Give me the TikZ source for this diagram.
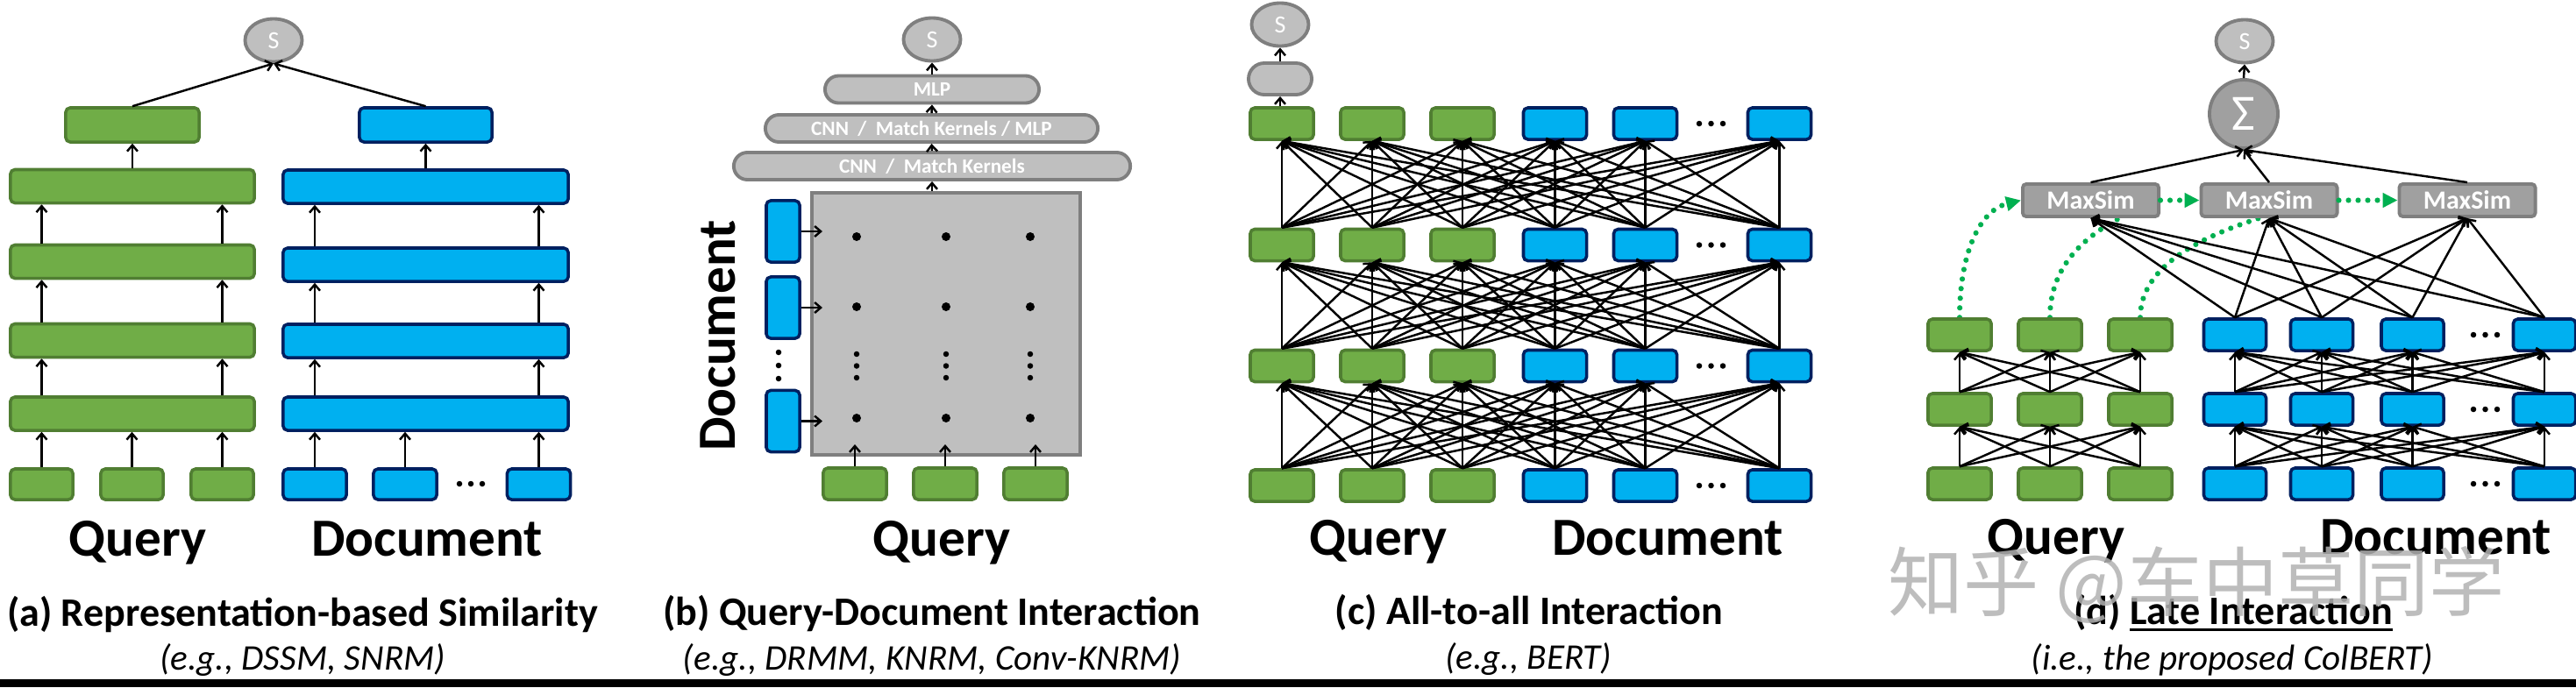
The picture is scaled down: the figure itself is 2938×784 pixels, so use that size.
\documentclass[tikz,border=0pt]{standalone}
\usepackage{fontspec}
\setmainfont{Carlito}
\newfontfamily\mycjk{Noto Sans CJK SC}
\usetikzlibrary{arrows.meta,shapes.geometric,shapes.misc,calc}
\definecolor{gfill}{HTML}{70AD47}
\definecolor{gline}{HTML}{507E32}
\definecolor{bfill}{HTML}{00B0F0}
\definecolor{bline}{HTML}{002060}
\definecolor{grfill}{HTML}{BFBFBF}
\definecolor{grline}{HTML}{7F7F7F}
\definecolor{msfill}{HTML}{A0A0A0}
\definecolor{dotgreen}{HTML}{00B050}
\pgfdeclarelayer{paper}
\pgfdeclarelayer{bg}
\pgfsetlayers{paper,bg,main}
\newcommand{\myfbig}{\fontsize{17.4pt}{20pt}\selectfont\bfseries}
\newcommand{\myfcap}{\fontsize{13.1pt}{15pt}\selectfont\bfseries}
\newcommand{\myfital}{\fontsize{11.7pt}{14pt}\selectfont\itshape}
\newcommand{\myfcaps}{\fontsize{6.6pt}{8pt}\selectfont\bfseries}
\newcommand{\myfms}{\fontsize{8.5pt}{10pt}\selectfont\bfseries}
\newcommand{\myfS}{\fontsize{8pt}{9pt}\selectfont}
\newcommand{\myul}[1]{\leavevmode\vtop{\hbox{#1}\kern1.3pt\hrule height0.85pt}}
\begin{document}
\begin{tikzpicture}[x=0.01cm,y=-0.01cm,
  gbox/.style={draw=gline,fill=gfill,line width=1pt,rounded corners=0.05cm,inner sep=0pt,minimum width=0.72cm,minimum height=0.36cm},
  bbox/.style={draw=bline,fill=bfill,line width=1pt,rounded corners=0.05cm,inner sep=0pt,minimum width=0.72cm,minimum height=0.36cm},
  sell/.style={ellipse,draw=grline,fill=grfill,line width=1.1pt,inner sep=0pt,minimum width=0.65cm,minimum height=0.49cm,text=white,font=\myfS},
  gcap/.style={rounded rectangle,draw=grline,fill=grfill,line width=1.1pt,inner sep=0pt,minimum height=0.31cm,text=white,font=\myfcaps},
  sqr/.style={draw=grline,fill=grfill,line width=1.2pt,inner sep=0pt},
  msbox/.style={draw=grline,fill=msfill,line width=1.1pt,rounded corners=0.04cm,inner sep=0pt,minimum width=1.55cm,minimum height=0.37cm,text=white,font=\myfms},
  sigmanode/.style={circle,draw=grline,fill=msfill,line width=1.1pt,inner sep=0pt,minimum size=0.78cm,text=white,font=\fontsize{16.5pt}{18pt}\selectfont},
  conn/.style={line width=0.7pt,-{Straight Barb[length=0.07cm,width=0.12cm]}},
  dotline/.style={dotgreen,line width=1.75pt,line cap=round,dash pattern=on 0pt off 0.11cm,-{Triangle[length=0.17cm,width=0.16cm]}},
  mdot/.style={circle,fill=black,inner sep=0pt,minimum size=0.1cm},
  sdot/.style={circle,fill=black,inner sep=0pt,minimum size=0.065cm},
  bigl/.style={font=\myfbig,inner sep=0pt,anchor=base},
  capb/.style={font=\myfcap,inner sep=0pt,anchor=base},
  capi/.style={font=\myfital,inner sep=0pt,anchor=base},
  wm/.style={font=\mycjk\fontsize{24.5pt}{26pt}\selectfont,text=black!30,text opacity=0.85,inner sep=0pt}
]
\useasboundingbox (0,0) rectangle (2938,784);
\begin{pgfonlayer}{paper}
\fill[white] (0,0) rectangle (2938,784);
\end{pgfonlayer}
\fill[black] (0,775) rectangle (2938,784);

% ---------------- panel (a)
\node[sell] (aS) at (312,46) {S};
\node[gbox,minimum width=1.52cm,minimum height=0.39cm] (aqt) at (151,142.5) {};
\node[bbox,minimum width=1.51cm,minimum height=0.39cm] (adt) at (485.5,142.5) {};
\foreach \y [count=\k] in {212.5,298.5,388.5,472}
  \node[gbox,minimum width=2.78cm,minimum height=0.38cm] (aq\k) at (151,\y) {};
\foreach \y [count=\k] in {213,302,389,472}
  \node[bbox,minimum width=3.25cm,minimum height=0.38cm] (ad\k) at (485.5,\y) {};
\foreach \x [count=\k] in {47.5,150.5,253.5}
  \node[gbox,minimum width=0.71cm,minimum height=0.35cm] (aqb\k) at (\x,552.5) {};
\foreach \x [count=\k] in {359,462,614.5}
  \node[bbox,minimum width=0.72cm,minimum height=0.35cm] (adb\k) at (\x,552.5) {};
\foreach \x [count=\k] in {524,537,550}
  \node[sdot] (adot\k) at (\x,552) {};
\foreach \k in {1,2,3} {
  \draw[conn] (aqb\k.north) -- (aqb\k |- aq4.south);
  \draw[conn] (adb\k.north) -- (adb\k |- ad4.south);
}
\foreach \k/\l in {4/3,3/2,2/1} \foreach \b in {1,3} {
  \draw[conn] (aqb\b |- aq\k.north) -- (aqb\b |- aq\l.south);
  \draw[conn] (adb\b |- ad\k.north) -- (adb\b |- ad\l.south);
}
\draw[conn] (aq1.north) -- (aqt.south);
\draw[conn] (ad1.north) -- (adt.south);
\draw[conn] (aqt.north) -- (aS.south);
\draw[conn] (adt.north) -- (aS.south);
\node[bigl] (aql) at (157,634) {Query};
\node[bigl] (adl) at (487,634) {Document};
\node[capb] (acap) at (345,714) {(a) Representation-based Similarity};
\node[capi] (aeg) at (345,764) {(e.g., DSSM, SNRM)};

% ---------------- panel (b)
\node[sell] (bS) at (1063,45) {S};
\node[gcap,minimum width=2.44cm] (bm) at (1063,102) {MLP};
\node[gcap,minimum width=3.79cm] (bc2) at (1062.5,146.5) {CNN\hspace{0.45em}/\hspace{0.45em}Match Kernels / MLP};
\node[gcap,minimum width=4.52cm] (bc1) at (1063,189.5) {CNN\hspace{0.45em}/\hspace{0.45em}Match Kernels};
\node[sqr,minimum width=3.06cm,minimum height=2.99cm] (bsq) at (1079,369.5) {};
\foreach \y [count=\k] in {264,351,480.5} {
  \node[bbox,minimum width=0.38cm,minimum height=0.70cm] (bd\k) at (893,\y) {};
  \coordinate (bdt\k) at (938,\y);
  \draw[conn] (bd\k.east) -- (bdt\k);
}
\foreach \y [count=\k] in {402,417,432}
  \node[sdot] (bdv\k) at (888,\y) {};
\foreach \x [count=\c] in {977,1079,1175} {
  \foreach \y [count=\r] in {270,350,477}
    \node[mdot] (bm\c-\r) at (\x,\y) {};
  \foreach \y [count=\r] in {404,417.5,431}
    \node[sdot] (bmv\c-\r) at (\x,\y) {};
}
\foreach \x [count=\k] in {975,1078,1181} {
  \node[gbox] (bq\k) at (\x,552) {};
  \coordinate (bqt\k) at (\x,507);
  \draw[conn] (bq\k.north) -- (bqt\k);
}
\draw[conn] (bc1.south |- bsq.north) -- (bc1.south);
\draw[conn] (bc1.north) -- (bc2.south);
\draw[conn] (bc2.north) -- (bm.south);
\draw[conn] (bm.north) -- (bS.south);
\node[bigl,rotate=90] (bdl) at (838,383) {Document};
\node[bigl] (bql) at (1074,634) {Query};
\node[capb] (bcap) at (1063,713) {(b) Query-Document Interaction};
\node[capi] (beg) at (1063,764) {(e.g., DRMM, KNRM, Conv-KNRM)};

% ---------------- panel (c)
\node[sell] (cS) at (1460,28) {S};
\node[gcap,minimum width=0.72cm,minimum height=0.36cm] (ccap) at (1460,90) {};
\foreach \y [count=\r] in {554,417.5,279.5,141} {
  \foreach \x [count=\k] in {1462,1565,1668}
    \node[gbox] (c\r-\k) at (\x,\y) {};
  \foreach \x [count=\k from 4] in {1773.5,1876.5,2029.5}
    \node[bbox] (c\r-\k) at (\x,\y) {};
  \foreach \x [count=\k] in {1938,1951.5,1965}
    \node[sdot] (c\r-dot\k) at (\x,\y) {};
}
\foreach \r/\s in {1/2,2/3,3/4}
  \foreach \i in {1,...,6}
    \foreach \j in {1,...,6}
      \draw[conn] (c\r-\i.north) -- (c\s-\j.south);
\draw[conn] (ccap.south |- c4-1.north) -- (ccap.south);
\draw[conn] (ccap.north) -- (cS.south);
\node[bigl] (cql) at (1572,633) {Query};
\node[bigl] (cdl) at (1902,633) {Document};
\node[capb] (ccapt) at (1744,712) {(c) All-to-all Interaction};
\node[capi] (ceg) at (1743,763) {(e.g., BERT)};

% ---------------- panel (d)
\node[sell] (dS) at (2560,47) {S};
\node[sigmanode] (dsum) at (2559,130) {Σ};
\node[msbox] (ms1) at (2384.5,228.5) {MaxSim};
\node[msbox] (ms2) at (2588,228.5) {MaxSim};
\node[msbox] (ms3) at (2814,228.5) {MaxSim};
\foreach \y [count=\r] in {552,467,382} {
  \foreach \x [count=\k] in {2235,2338,2441}
    \node[gbox] (dq\r-\k) at (\x,\y) {};
  \foreach \x [count=\k] in {2549,2648,2751.5,2902}
    \node[bbox,minimum width=0.71cm] (dd\r-\k) at (\x,\y) {};
  \foreach \x [count=\k] in {2821,2834.5,2848}
    \node[sdot] (dd\r-dot\k) at (\x,\y) {};
}
\foreach \r/\s in {1/2,2/3} {
  \foreach \i in {1,2,3} \foreach \j in {1,2,3}
    \draw[conn] (dq\r-\i.north) -- (dq\s-\j.south);
  \foreach \i in {1,...,4} \foreach \j in {1,...,4}
    \draw[conn] (dd\r-\i.north) -- (dd\s-\j.south);
}
\foreach \i in {1,...,4} \foreach \m in {1,2,3}
  \draw[conn] (dd3-\i.north) -- (ms\m.south);
\foreach \m in {1,2,3}
  \draw[conn] (ms\m.north) -- (dsum.south);
\draw[conn] (dsum.north) -- (dS.south);
\coordinate (dq2end) at (2440,238);
\coordinate (dq3end) at (2600,242);
\begin{pgfonlayer}{bg}
\draw[dotline] (dq3-1.north) .. controls +(0,-74) and +(-47,11.5) .. (ms1.west);
\draw[dotline,-] (dq3-2.north) .. controls +(0,-64) and +(-55,24) .. (dq2end);
\draw[dotline,-] (dq3-3.north) .. controls +(0,-54) and +(-100,28) .. (dq3end);
\end{pgfonlayer}
\draw[dotline] (ms1.east) -- (ms2.west);
\draw[dotline] (ms2.east) -- (ms3.west);
\node[bigl] (dql) at (2345,632) {Query};
\node[bigl] (ddl) at (2778,632) {Document};
\node[capb] (dcap) at (2547,712) {(d) \myul{Late Interaction}};
\node[capi] (deg) at (2546,764) {(i.e., the proposed ColBERT)};
\node[wm] (wmk) at (2505,667) {知乎 @车中草同学};
\end{tikzpicture}
\end{document}
